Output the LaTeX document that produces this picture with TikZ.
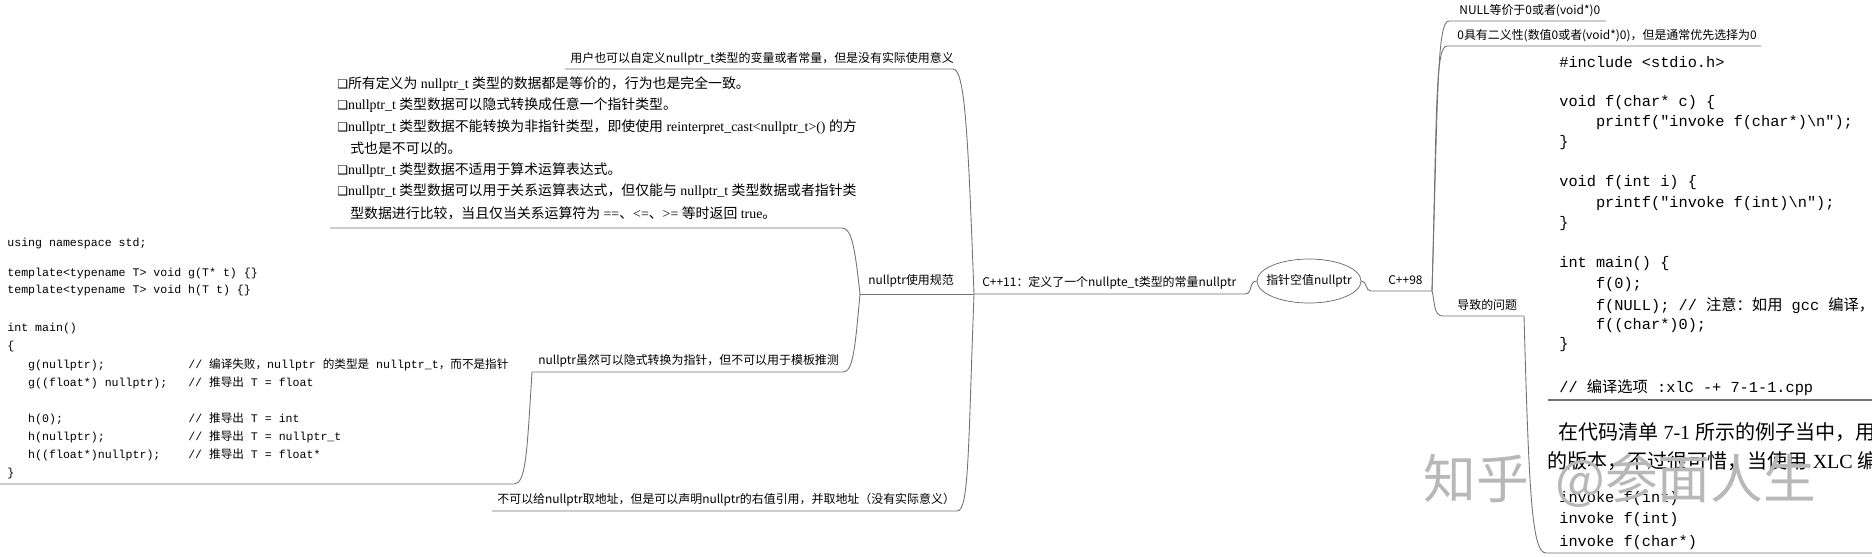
\documentclass[tikz,border=0pt]{standalone}
\usepackage{fontspec}
\setmainfont{Liberation Serif}
\setmonofont{Liberation Mono}
\newfontfamily\cjk{Noto Sans CJK SC}
\newfontfamily\dejavu{DejaVu Sans}
\usetikzlibrary{shapes.geometric}

\newcommand{\zh}[1]{{\cjk #1}}
\newcommand{\bx}{{\dejavu\fontsize{6.8}{7}\selectfont ❑}}
\newcommand{\codecmt}[2]{\makebox[3.62cm][l]{#1}#2}

\begin{document}
\begin{tikzpicture}[x=0.02cm, y=-0.02cm,
    every node/.style={inner sep=0pt, anchor=west},
    lab/.style={font=\cjk\fontsize{6.8}{8}\selectfont},
    rulebox/.style={font=\fontsize{7.9}{9}\selectfont},
    lcode/.style={font=\ttfamily\fontsize{6.6}{8}\selectfont},
    rcode/.style={font=\ttfamily\fontsize{8.7}{10}\selectfont},
    big/.style={font=\fontsize{11.4}{13}\selectfont},
    branch/.style={draw=black!55, line width=0.5pt}]
    \useasboundingbox (0,0) rectangle (1872,556);
    \clip (0,0) rectangle (1872,556);
    \fill[white] (0,0) rectangle (1872,556);

    % centre
    \node[lab, ellipse, draw=black!60, inner xsep=-4pt, minimum width=2.08cm, minimum height=0.88cm, anchor=center] (root) at (1309,281) {指针空值nullptr};

    % C++11 side
    \node[lab] (c11) at (982,283) {C++11：定义了一个nullpte\_t类型的常量nullptr};
    \coordinate (c11-l) at (974,294);
    \coordinate (c11-r) at (1245,294);
    \draw[branch] (root.west) .. controls +(-8,0) and +(8,0) .. (c11-r) -- (c11-l);

    \node[lab] (usr) at (570,59) {用户也可以自定义nullptr\_t类型的变量或者常量，但是没有实际使用意义};
    \coordinate (usr-l) at (565,69);
    \coordinate (usr-r) at (953,69);
    \draw[branch] (c11-l) .. controls +(-6,-160) and +(12,0) .. (usr-r) -- (usr-l);

    \node[lab] (use) at (868,281) {nullptr使用规范};
    \coordinate (use-l) at (860,294);
    \draw[branch] (c11-l) -- (use-l);

    \node[lab] (addr) at (497,500) {不可以给nullptr取地址，但是可以声明nullptr的右值引用，并取地址（没有实际意义）};
    \coordinate (addr-l) at (492,511);
    \coordinate (addr-r) at (957,511);
    \draw[branch] (c11-l) .. controls +(-6,160) and +(12,0) .. (addr-r) -- (addr-l);

    % rules of nullptr_t
    \node[rulebox] (r1) at (337,84) {\bx\zh{所有定义为} nullptr\_t \zh{类型的数据都是等价的，行为也是完全一致。}};
    \node[rulebox] (r2) at (337,105.5) {\bx nullptr\_t \zh{类型数据可以隐式转换成任意一个指针类型。}};
    \node[rulebox] (r3) at (337,127) {\bx nullptr\_t \zh{类型数据不能转换为非指针类型，即使使用} reinterpret\_cast<nullptr\_t>() \zh{的方}};
    \node[rulebox] (r4) at (350,148.5) {\zh{式也是不可以的。}};
    \node[rulebox] (r5) at (337,170) {\bx nullptr\_t \zh{类型数据不适用于算术运算表达式。}};
    \node[rulebox] (r6) at (337,191.5) {\bx nullptr\_t \zh{类型数据可以用于关系运算表达式，但仅能与} nullptr\_t \zh{类型数据或者指针类}};
    \node[rulebox] (r7) at (350,213) {\zh{型数据进行比较，当且仅当关系运算符为} ==\zh{、}<=\zh{、}>= \zh{等时返回} true\zh{。}};
    \coordinate (rules-l) at (330,228);
    \coordinate (rules-r) at (842,228);
    \draw[branch] (use-l) .. controls +(-5,-45) and +(10,0) .. (rules-r) -- (rules-l);

    \node[lab] (tpl) at (538,361) {nullptr虽然可以隐式转换为指针，但不可以用于模板推测};
    \coordinate (tpl-l) at (532,372);
    \coordinate (tpl-r) at (843,372);
    \draw[branch] (use-l) .. controls +(-5,55) and +(10,0) .. (tpl-r) -- (tpl-l);

    % template deduction code
    \node[lcode] (lc1) at (7,243) {using namespace std;};
    \node[lcode] (lc2) at (7,273) {template<typename T> void g(T* t) \{\}};
    \node[lcode] (lc3) at (7,290) {template<typename T> void h(T t) \{\}};
    \node[lcode] (lc4) at (7,328) {int main()};
    \node[lcode] (lc5) at (7,346) {\{};
    \node[lcode] (lc6) at (7,365) {\codecmt{\hspace*{1.8em}g(nullptr);}{// \zh{编译失败，}nullptr \zh{的类型是} nullptr\_t\zh{，而不是指针}}};
    \node[lcode] (lc7) at (7,383) {\codecmt{\hspace*{1.8em}g((float*) nullptr);}{// \zh{推导出} T = float}};
    \node[lcode] (lc8) at (7,419) {\codecmt{\hspace*{1.8em}h(0);}{// \zh{推导出} T = int}};
    \node[lcode] (lc9) at (7,437) {\codecmt{\hspace*{1.8em}h(nullptr);}{// \zh{推导出} T = nullptr\_t}};
    \node[lcode] (lc10) at (7,455) {\codecmt{\hspace*{1.8em}h((float*)nullptr);}{// \zh{推导出} T = float*}};
    \node[lcode] (lc11) at (7,473) {\}};
    \coordinate (lcode-l) at (0,484);
    \coordinate (lcode-r) at (514,484);
    \draw[branch] (tpl-l) .. controls +(-5,80) and +(12,0) .. (lcode-r) -- (lcode-l);

    % C++98 side
    \node[lab] (c98) at (1388,280) {C++98};
    \coordinate (c98-l) at (1371,291);
    \coordinate (c98-r) at (1432,291);
    \draw[branch] (root.east) .. controls +(6,0) and +(-6,0) .. (c98-l) -- (c98-r);

    \node[lab] (null) at (1459,11) {NULL等价于0或者(void*)0};
    \coordinate (null-l) at (1449,21);
    \coordinate (null-r) at (1606,21);
    \draw[branch] (c98-r) .. controls +(6,-200) and +(-12,0) .. (null-l) -- (null-r);

    \node[lab] (amb) at (1457,36) {0具有二义性(数值0或者(void*)0)，但是通常优先选择为0};
    \coordinate (amb-l) at (1447,46);
    \coordinate (amb-r) at (1761,46);
    \draw[branch] (c98-r) .. controls +(5,-180) and +(-12,0) .. (amb-l) -- (amb-r);

    \node[lab] (prob) at (1457,305) {导致的问题};
    \coordinate (prob-l) at (1443,316);
    \coordinate (prob-r) at (1524,316);
    \draw[branch] (c98-r) .. controls +(3,10) and +(-10,0) .. (prob-l) -- (prob-r);

    % overload example
    \node[rcode] (rc1) at (1559,62) {\#include <stdio.h>};
    \node[rcode] (rc2) at (1559,103) {void f(char* c) \{};
    \node[rcode] (rc3) at (1559,123) {\hspace*{2.4em}printf("invoke f(char*)\textbackslash n");};
    \node[rcode] (rc4) at (1559,143) {\}};
    \node[rcode] (rc5) at (1559,183) {void f(int i) \{};
    \node[rcode] (rc6) at (1559,204) {\hspace*{2.4em}printf("invoke f(int)\textbackslash n");};
    \node[rcode] (rc7) at (1559,224) {\}};
    \node[rcode] (rc8) at (1559,264) {int main() \{};
    \node[rcode] (rc9) at (1559,285) {\hspace*{2.4em}f(0);};
    \node[rcode] (rc10) at (1559,306) {\hspace*{2.4em}f(NULL); // \zh{注意：如用} gcc \zh{编译，}};
    \node[rcode] (rc11) at (1559,326) {\hspace*{2.4em}f((char*)0);};
    \node[rcode] (rc12) at (1559,345) {\}};
    \node[rcode] (rc13) at (1559,388) {// \zh{编译选项} :xlC -+ 7-1-1.cpp};
    \draw[black!55, line width=1.2pt] (1548,400) -- (1872,400);
    \node[big] (txt1) at (1558,432) {\zh{在代码清单} 7-1 \zh{所示的例子当中，用}};
    \node[big] (txt2) at (1547,461) {\zh{的版本，不过很可惜，当使用} XLC \zh{编译}};
    \node[rcode] (rc14) at (1559,499) {invoke f(int)};
    \node[rcode] (rc15) at (1559,520) {invoke f(int)};
    \node[rcode] (rc16) at (1559,543) {invoke f(char*)};
    \coordinate (rcode-l) at (1546,553);
    \coordinate (rcode-r) at (1872,553);
    \draw[branch] (prob-r) .. controls +(5,180) and +(-14,0) .. (rcode-l) -- (rcode-r);

    % watermark
    \node[font=\cjk\fontsize{30}{32}\selectfont, text=black!28] (wm) at (1423,481) {知乎\hspace{0.5em}@参面人生};
\end{tikzpicture}
\end{document}
